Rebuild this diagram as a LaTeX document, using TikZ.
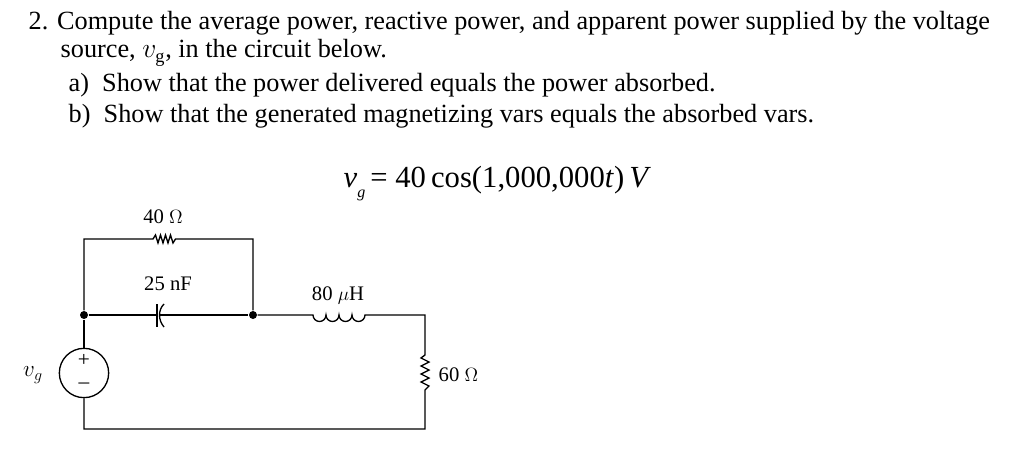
\documentclass[tikz,border=0pt]{standalone}
\usepackage{fontspec}
\setmainfont{Liberation Serif}
\begin{document}
\begin{tikzpicture}[x=0.75pt,y=-0.75pt,line width=1pt,
  txt/.style={anchor=base west,inner sep=0pt,font=\fontsize{19.7}{22}\selectfont},
  lbl/.style={inner sep=0pt,font=\fontsize{15.5}{17}\selectfont},
  dot/.style={circle,fill=black,inner sep=0pt,minimum size=6pt}]
\useasboundingbox (0,0) rectangle (1024,474);
\node[txt] (l1) at (28,30) {2. Compute the average power, reactive power, and apparent power supplied by the voltage};
\node[txt] (l2) at (60,58) {source, $v_{\mathrm g}$, in the circuit below.};
\node[txt] (l3) at (68,92) {a)\ \ Show that the power delivered equals the power absorbed.};
\node[txt] (l4) at (68,123) {b)\ \ Show that the generated magnetizing vars equals the absorbed vars.};
\node[txt,font=\fontsize{23}{26}\selectfont] (f) at (343,188) {\textit{v}\raisebox{-7pt}{\fontsize{12}{12}\selectfont\textit{g}}\,= 40\,cos(1,000,000\textit{t})\,\textit{V}};
% nodes
\node[dot] (n1) at (84,315) {};
\node[dot] (n2) at (253,315) {};
\coordinate (tl) at (84,239);
\coordinate (tr) at (253,239);
\coordinate (mr) at (425,315);
\coordinate (br) at (425,429);
\coordinate (bl) at (84,429);
\node[circle,draw,minimum size=37pt,inner sep=0pt] (src) at (84,373) {};
\node[font=\fontsize{16}{16}\selectfont] at (84,360) {+};
\node[font=\fontsize{16}{16}\selectfont] at (84,386) {--};
% wires
\draw (n1) -- (tl) -- (153,239)
  -- (155.5,235) -- (158,243) -- (160.5,235) -- (163,243) -- (165.5,235) -- (168,243) -- (170.5,235) -- (173,243) -- (175.5,239) -- (183,239)
  -- (tr) -- (n2);
\draw (n1) -- (157,315);
\draw (157,304) -- (157,327);
\draw (164,304) .. controls (158,310) and (158,320) .. (164,327);
\draw (160,315) -- (n2);
\draw (n2) -- (313,315)
  arc[start angle=180,end angle=0,radius=6.5] arc[start angle=180,end angle=0,radius=6.5]
  arc[start angle=180,end angle=0,radius=6.5] arc[start angle=180,end angle=0,radius=6.5]
  -- (mr) -- (425,355)
  -- (421,358) -- (429,362) -- (421,366) -- (429,370) -- (421,374) -- (429,378) -- (421,382) -- (429,386) -- (425,390)
  -- (br) -- (bl) -- (src.south);
\draw (src.north) -- (n1);
% labels
\node[lbl] at (163,217) {40 $\Omega$};
\node[lbl] at (168,284) {25 nF};
\node[lbl] at (338,295) {80 $\mu$H};
\node[lbl,anchor=west] at (438,375) {60 $\Omega$};
\node[lbl,font=\fontsize{17}{18}\selectfont] at (33,375) {$v_g$};
\end{tikzpicture}
\end{document}
